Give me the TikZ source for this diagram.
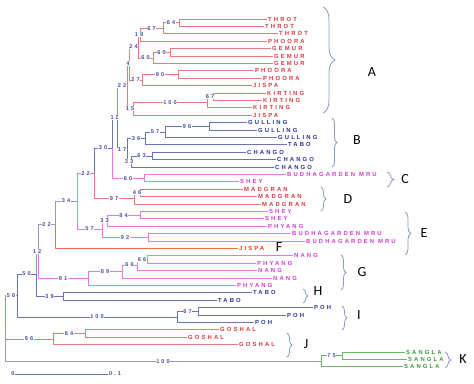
\documentclass[tikz,border=0pt]{standalone}
\usepackage{fontspec}
\usepackage{tikz}
\usetikzlibrary{decorations.pathreplacing}
\newfontfamily\taxfont[LetterSpace=36]{Liberation Sans}
\newfontfamily\grpfont{Carlito}
\definecolor{tred}{HTML}{D8383C}
\definecolor{tnavy}{HTML}{2E3192}
\definecolor{tpink}{HTML}{D23CD2}
\definecolor{tgreen}{HTML}{3C9A3C}
\definecolor{bred}{HTML}{E07C7C}
\definecolor{bblue}{HTML}{6B74B0}
\definecolor{bpink}{HTML}{E27AE2}
\definecolor{bgreen}{HTML}{6DB56D}
\definecolor{borange}{HTML}{E8704A}
\definecolor{bgrey}{HTML}{9A9AB0}
\definecolor{bootc}{HTML}{4A4AA0}
\definecolor{bracec}{HTML}{8C9BB8}

\begin{document}
\begin{tikzpicture}[x=1pt,y=-1pt,line width=0.7pt,
    taxon/.style={anchor=west,inner sep=0.8pt,font=\taxfont\bfseries\fontsize{5.9}{6}\selectfont},
    bootlab/.style={fill=white,inner sep=0.4pt,text=bootc,font=\taxfont\bfseries\fontsize{5.6}{6}\selectfont},
    boot/.style={bootlab,pos=0.75},
    grpbrace/.style={draw=bracec,line width=0.8pt,decorate,decoration={brace,amplitude=#1}},
    grpbrace/.default=5pt,
    grp/.style={font=\grpfont\fontsize{14}{16}\selectfont}]
    \useasboundingbox (0,0) rectangle (474,383);

    % taxa
    \node[taxon,text=tred] (l1) at (267,19.0) {THROT};
    \node[taxon,text=tred] (l2) at (264,26.4) {THROT};
    \node[taxon,text=tred] (l3) at (278,33.8) {THROT};
    \node[taxon,text=tred] (l4) at (267,41.2) {PHOORA};
    \node[taxon,text=tred] (l5) at (271,48.6) {GEMUR};
    \node[taxon,text=tred] (l6) at (273,56.0) {GEMUR};
    \node[taxon,text=tred] (l7) at (273,63.4) {GEMUR};
    \node[taxon,text=tred] (l8) at (254,70.8) {PHOORA};
    \node[taxon,text=tred] (l9) at (262,78.2) {PHOORA};
    \node[taxon,text=tred] (l10) at (252,85.6) {JISPA};
    \node[taxon,text=tred] (l11) at (266,93.0) {KIRTING};
    \node[taxon,text=tred] (l12) at (262,100.4) {KIRTING};
    \node[taxon,text=tred] (l13) at (252,107.8) {KIRTING};
    \node[taxon,text=tred] (l14) at (252,115.2) {JISPA};
    \node[taxon,text=tnavy] (l15) at (247,122.6) {GULLING};
    \node[taxon,text=tnavy] (l16) at (257,130.0) {GULLING};
    \node[taxon,text=tnavy] (l17) at (277,137.4) {GULLING};
    \node[taxon,text=tnavy] (l18) at (287,144.8) {TABO};
    \node[taxon,text=tnavy] (l19) at (246,152.2) {CHANGO};
    \node[taxon,text=tnavy] (l20) at (276,159.6) {CHANGO};
    \node[taxon,text=tnavy] (l21) at (274,167.0) {CHANGO};
    \node[taxon,text=tpink] (l22) at (286,174.4) {BUDHAGARDEN MRU};
    \node[taxon,text=tpink] (l23) at (239,181.8) {SHEY};
    \node[taxon,text=tred] (l24) at (243,189.2) {MADGRAN};
    \node[taxon,text=tred] (l25) at (257,196.6) {MADGRAN};
    \node[taxon,text=tred] (l26) at (261,204.0) {MADGRAN};
    \node[taxon,text=tpink] (l27) at (268,211.4) {SHEY};
    \node[taxon,text=tpink] (l28) at (264,218.8) {SHEY};
    \node[taxon,text=tpink] (l29) at (267,226.2) {PHYANG};
    \node[taxon,text=tpink] (l30) at (291,233.6) {BUDHAGARDEN MRU};
    \node[taxon,text=tpink] (l31) at (305,241.0) {BUDHAGARDEN MRU};
    \node[taxon,text=tred] (l32) at (238,248.4) {JISPA};
    \node[taxon,text=tpink] (l33) at (293,255.8) {NANG};
    \node[taxon,text=tpink] (l34) at (256,263.2) {PHYANG};
    \node[taxon,text=tpink] (l35) at (257,270.6) {NANG};
    \node[taxon,text=tpink] (l36) at (272,278.0) {NANG};
    \node[taxon,text=tpink] (l37) at (236,285.4) {PHYANG};
    \node[taxon,text=tnavy] (l38) at (252,292.8) {TABO};
    \node[taxon,text=tnavy] (l39) at (217,300.2) {TABO};
    \node[taxon,text=tnavy] (l40) at (313,307.6) {POH};
    \node[taxon,text=tnavy] (l41) at (286,315.0) {POH};
    \node[taxon,text=tnavy] (l42) at (254,322.4) {POH};
    \node[taxon,text=tred] (l43) at (219,329.8) {GOSHAL};
    \node[taxon,text=tred] (l44) at (187,337.2) {GOSHAL};
    \node[taxon,text=tred] (l45) at (238,344.6) {GOSHAL};
    \node[taxon,text=tgreen] (l46) at (405,352.0) {SANGLA};
    \node[taxon,text=tgreen] (l47) at (407,359.4) {SANGLA};
    \node[taxon,text=tgreen] (l48) at (403,366.8) {SANGLA};

    % internal nodes
    \coordinate (n64) at (179,22.7);
    \coordinate (n67a) at (163,28.3);
    \coordinate (n19) at (140,34.8);
    \coordinate (n60b) at (170,52.3);
    \coordinate (n60a) at (153,57.9);
    \coordinate (n24) at (138,46.3);
    \coordinate (n90) at (178,74.5);
    \coordinate (n27) at (142,80.0);
    \coordinate (n4) at (129,63.2);
    \coordinate (n67b) at (213,96.7);
    \coordinate (n100a) at (207,102.3);
    \coordinate (n15) at (133,108.7);
    \coordinate (n22a) at (127,86.0);
    \coordinate (n96) at (209,126.3);
    \coordinate (n57a) at (165,131.9);
    \coordinate (n36) at (145,138.3);
    \coordinate (n63) at (152,155.9);
    \coordinate (n33a) at (131,161.4);
    \coordinate (n17) at (127,149.9);
    \coordinate (n11) at (117,118.0);
    \coordinate (n60c) at (144,178.1);
    \coordinate (n30) at (112,148.0);
    \coordinate (n46) at (140,192.9);
    \coordinate (n97) at (134,198.5);
    \coordinate (n22b) at (94,173.2);
    \coordinate (n84a) at (140,215.1);
    \coordinate (n33b) at (107,220.6);
    \coordinate (n92) at (148,237.3);
    \coordinate (n57b) at (102,229.0);
    \coordinate (n34) at (77,201.0);
    \coordinate (n22c) at (55,224.7);
    \coordinate (n66b) at (147,259.5);
    \coordinate (n66a) at (137,265.0);
    \coordinate (n89) at (122,271.5);
    \coordinate (n91) at (88,278.5);
    \coordinate (n12) at (38,251.6);
    \coordinate (n39) at (63,296.5);
    \coordinate (n50) at (36,274.0);
    \coordinate (n67c) at (198,311.3);
    \coordinate (n100b) at (177,316.9);
    \coordinate (n56) at (17,295.5);
    \coordinate (n84b) at (85,333.5);
    \coordinate (n96b) at (53,339.0);
    \coordinate (n75) at (342,355.7);
    \coordinate (n100c) at (321,361.3);
    \coordinate (root) at (5,328.0);

    % clade A
    \draw[bred] (n64) |- (l1);
    \draw[bred] (n64) |- (l2);
    \draw[bred] (n67a) |- node[boot]{64} (n64);
    \draw[bred] (n67a) |- (l3);
    \draw[bred] (n19) |- node[boot]{67} (n67a);
    \draw[bred] (n19) |- (l4);
    \draw[bred] (n60b) |- (l5);
    \draw[bred] (n60b) |- (l6);
    \draw[bred] (n60a) |- node[boot]{60} (n60b);
    \draw[bred] (n60a) |- (l7);
    \draw[bred] (n24) |- node[boot]{19} (n19);
    \draw[bred] (n24) |- node[boot]{60} (n60a);
    \draw[bred] (n90) |- (l8);
    \draw[bred] (n90) |- (l9);
    \draw[bred] (n27) |- node[boot]{90} (n90);
    \draw[bred] (n27) |- (l10);
    \draw[bred] (n4) |- node[boot]{24} (n24);
    \draw[bred] (n4) |- node[boot]{27} (n27);
    \draw[bred] (n67b) |- (l11);
    \draw[bred] (n67b) |- (l12);
    \draw[bred] (n100a) |- node[boot]{67} (n67b);
    \draw[bred] (n100a) |- (l13);
    \draw[bred] (n15) |- node[boot]{100} (n100a);
    \draw[bred] (n15) |- (l14);
    \draw[bred] (n22a) |- node[boot]{4} (n4);
    \draw[bred] (n22a) |- node[boot]{15} (n15);

    % clade B
    \draw[bblue] (n96) |- (l15);
    \draw[bblue] (n96) |- (l16);
    \draw[bblue] (n57a) |- node[boot]{96} (n96);
    \draw[bblue] (n57a) |- (l17);
    \draw[bblue] (n36) |- node[boot]{57} (n57a);
    \draw[bblue] (n36) |- (l18);
    \draw[bblue] (n63) |- (l19);
    \draw[bblue] (n63) |- (l20);
    \draw[bblue] (n33a) |- node[boot]{63} (n63);
    \draw[bblue] (n33a) |- (l21);
    \draw[bblue] (n17) |- node[boot]{36} (n36);
    \draw[bblue] (n17) |- node[boot]{33} (n33a);
    \draw[bred] (n11) |- node[boot]{22} (n22a);
    \draw[bblue] (n11) |- node[boot]{17} (n17);

    % clades C, D, E, F
    \draw[bpink] (n60c) |- (l22);
    \draw[bpink] (n60c) |- (l23);
    \draw[bblue] (n30) |- node[boot]{11} (n11);
    \draw[bpink] (n30) |- node[boot]{60} (n60c);
    \draw[bred] (n46) |- (l24);
    \draw[bred] (n46) |- (l25);
    \draw[bred] (n97) |- node[boot]{46} (n46);
    \draw[bred] (n97) |- (l26);
    \draw[bblue] (n22b) |- node[boot]{30} (n30);
    \draw[bred] (n22b) |- node[boot]{97} (n97);
    \draw[bpink] (n84a) |- (l27);
    \draw[bpink] (n84a) |- (l28);
    \draw[bpink] (n33b) |- node[boot]{84} (n84a);
    \draw[bpink] (n33b) |- (l29);
    \draw[bpink] (n92) |- (l30);
    \draw[bpink] (n92) |- (l31);
    \draw[bpink] (n57b) |- node[boot]{33} (n33b);
    \draw[bpink] (n57b) |- node[boot]{92} (n92);
    \draw[bpink] (n34) |- node[boot]{22} (n22b);
    \draw[bpink] (n34) |- node[boot]{57} (n57b);
    \draw[bgrey] (n22c) |- node[boot]{34} (n34);
    \draw[borange] (n22c) |- (l32);

    % clades G, H
    \draw[bpink] (n66b) |- (l33);
    \draw[bpink] (n66b) |- (l34);
    \draw[bpink] (n66a) |- node[boot]{66} (n66b);
    \draw[bpink] (n66a) |- (l35);
    \draw[bpink] (n89) |- node[boot]{66} (n66a);
    \draw[bpink] (n89) |- (l36);
    \draw[bpink] (n91) |- node[boot]{89} (n89);
    \draw[bpink] (n91) |- (l37);
    \draw[bgrey] (n12) |- node[boot]{22} (n22c);
    \draw[bpink] (n12) |- node[boot]{91} (n91);
    \draw[bblue] (n39) |- (l38);
    \draw[bblue] (n39) |- (l39);
    \draw[bgrey] (n50) |- node[boot]{12} (n12);
    \draw[bblue] (n50) |- node[boot]{39} (n39);

    % clades I, J, K
    \draw[bblue] (n67c) |- (l40);
    \draw[bblue] (n67c) |- (l41);
    \draw[bblue] (n100b) |- node[boot]{67} (n67c);
    \draw[bblue] (n100b) |- (l42);
    \draw[bblue] (n56) |- node[boot]{50} (n50);
    \draw[bblue] (n56) |- node[boot]{100} (n100b);
    \draw[bred] (n84b) |- (l43);
    \draw[bred] (n84b) |- (l44);
    \draw[bred] (n96b) |- node[boot]{84} (n84b);
    \draw[bred] (n96b) |- (l45);
    \draw[bgreen] (n75) |- (l46);
    \draw[bgreen] (n75) |- (l47);
    \draw[bgreen] (n100c) |- node[boot]{75} (n75);
    \draw[bgreen] (n100c) |- (l48);
    \draw[bred] (root) |- node[boot]{56} (n56);
    \draw[bred] (root) |- node[boot]{96} (n96b);
    \draw[bgrey] (root) |- node[boot]{100} (n100c);

    % group braces
    \draw[grpbrace=12pt] (323,7) -- (323,113);
    \node[grp] (gA) at (372,72) {A};
    \draw[grpbrace] (332,118) -- (332,167);
    \node[grp] (gB) at (357,140) {B};
    \draw[grpbrace=7pt] (387,172) -- (387,187);
    \node[grp] (gC) at (405,179) {C};
    \draw[grpbrace] (321,187) -- (321,211);
    \node[grp] (gD) at (348,199) {D};
    \draw[grpbrace=6pt] (405,212) -- (405,255);
    \node[grp] (gE) at (424,233) {E};
    \node[grp] (gF) at (279,247) {F};
    \draw[grpbrace] (341,255) -- (341,290);
    \node[grp] (gG) at (362,272) {G};
    \draw[grpbrace] (303,289) -- (303,303);
    \node[grp] (gH) at (318,291) {H};
    \draw[grpbrace] (342,306) -- (342,330);
    \node[grp] (gI) at (359,315) {I};
    \draw[grpbrace] (287,333) -- (287,357);
    \node[grp] (gJ) at (306,344) {J};
    \draw[grpbrace=6pt] (445,352) -- (445,368);
    \node[grp] (gK) at (463,359) {K};

    % scale bar
    \node[bootlab] (s0) at (13,374) {0};
    \node[bootlab] (s1) at (115,374) {0.1};
    \draw[bblue] (s0) -- (s1);
\end{tikzpicture}
\end{document}
